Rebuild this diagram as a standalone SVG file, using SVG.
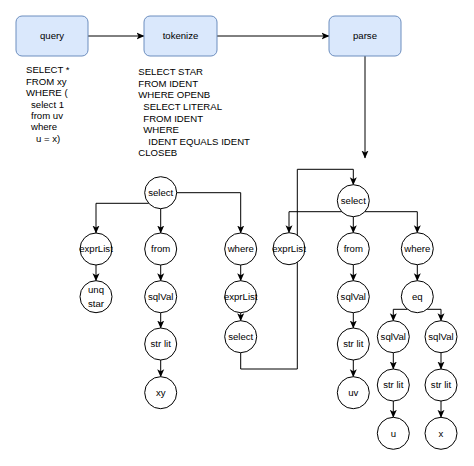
<svg xmlns="http://www.w3.org/2000/svg" width="474" height="466" viewBox="0 0 474 466">
<style>
text{font-family:"Liberation Sans",Arial,sans-serif;font-size:9.6px;fill:#000}
.c{text-anchor:middle}
.box{fill:#dae8fc;stroke:#6c8ebf;stroke-width:1}
.n{fill:#fff;stroke:#000;stroke-width:1}
.e{fill:none;stroke:#000;stroke-width:1;marker-end:url(#arr)}
.l{fill:none;stroke:#000;stroke-width:1}
</style>
<defs>
<marker id="arr" markerUnits="userSpaceOnUse" markerWidth="8" markerHeight="8" viewBox="0 0 8 8" refX="7.5" refY="4" orient="auto">
<path d="M0,0.5 L8,4 L0,7.5 L2,4 z" fill="#000"/>
</marker>
</defs>
<rect width="474" height="466" fill="#fff"/>
<g id="connectors">
<path class="e" d="M88,36 H144"/>
<path class="e" d="M217,36 H329"/>
<path class="e" d="M365,56 V158"/>
<path class="e" d="M148.7,203.3 H96 V233"/>
<path class="e" d="M160.7,208.7 V233"/>
<path class="e" d="M176.7,192.7 H240.7 V233"/>
<path class="e" d="M96,265 V280.7"/>
<path class="e" d="M160.7,265 V280.7"/>
<path class="e" d="M160.7,312.7 V328"/>
<path class="e" d="M160.7,360 V376.7"/>
<path class="e" d="M240.7,265 V280.7"/>
<path class="e" d="M240.7,312.7 V320.7"/>
<path class="e" d="M240.7,352.7 V369 H297.3 V169.3 H353.3 V184.7"/>
<path class="e" d="M341.7,211.7 H289 V232.7"/>
<path class="e" d="M353.3,216.7 V232.7"/>
<path class="e" d="M365,211.7 H417.3 V232.7"/>
<path class="e" d="M353.3,264.7 V280.7"/>
<path class="e" d="M353.3,312.7 V328"/>
<path class="e" d="M353.3,360 V376.7"/>
<path class="e" d="M417.3,264.7 V280.7"/>
<path class="e" d="M407.4,309.3 H393.3 V320.7"/>
<path class="e" d="M427.2,309.3 H441 V320.7"/>
<path class="e" d="M393.3,352.7 V369"/>
<path class="e" d="M441,352.7 V369"/>
<path class="e" d="M393.3,401 V417.3"/>
<path class="e" d="M441,401 V417.3"/>
</g>
<g id="query"><rect class="box" x="16" y="16" width="72" height="40" rx="6"/><text class="c" x="52" y="39.3">query</text></g>
<g id="tokenize"><rect class="box" x="144" y="16" width="73" height="40" rx="6"/><text class="c" x="180.5" y="39.3">tokenize</text></g>
<g id="parse"><rect class="box" x="329" y="16" width="72" height="40" rx="6"/><text class="c" x="365" y="39.3">parse</text></g>
<g id="query-text"><text><tspan x="26" y="73.3">SELECT *</tspan><tspan x="26" y="84.7">FROM xy</tspan><tspan x="26" y="96.1">WHERE (</tspan><tspan x="31" y="107.5">select 1</tspan><tspan x="31" y="118.9">from uv</tspan><tspan x="31" y="130.3">where</tspan><tspan x="36" y="141.7">u = x)</tspan></text></g>
<g id="tokens-text"><text><tspan x="138.3" y="75.2">SELECT STAR</tspan><tspan x="138.3" y="86.8">FROM IDENT</tspan><tspan x="138.3" y="98.4">WHERE OPENB</tspan><tspan x="143.3" y="110">SELECT LITERAL</tspan><tspan x="143.3" y="121.6">FROM IDENT</tspan><tspan x="143.3" y="133.2">WHERE</tspan><tspan x="148.3" y="144.8">IDENT EQUALS IDENT</tspan><tspan x="138.3" y="156.4">CLOSEB</tspan></text></g>
<g id="t1-select"><circle class="n" cx="160.7" cy="192.7" r="16"/><text class="c" x="160.7" y="196">select</text></g>
<g id="t1-exprList"><circle class="n" cx="96" cy="249" r="16"/><text class="c" x="96" y="252.3">exprList</text></g>
<g id="t1-from"><circle class="n" cx="160.7" cy="249" r="16"/><text class="c" x="160.7" y="252.3">from</text></g>
<g id="t1-where"><circle class="n" cx="240.7" cy="249" r="16"/><text class="c" x="240.7" y="252.3">where</text></g>
<g id="t1-unqstar"><circle class="n" cx="96" cy="296.7" r="16"/><text class="c"><tspan x="96" y="293">unq</tspan><tspan x="96" y="306.5">star</tspan></text></g>
<g id="t1-sqlVal"><circle class="n" cx="160.7" cy="296.7" r="16"/><text class="c" x="160.7" y="300">sqlVal</text></g>
<g id="t1-strlit"><circle class="n" cx="160.7" cy="344" r="16"/><text class="c" x="160.7" y="347.3">str lit</text></g>
<g id="t1-xy"><circle class="n" cx="160.7" cy="392.7" r="16"/><text class="c" x="160.7" y="396">xy</text></g>
<g id="t1-exprList2"><circle class="n" cx="240.7" cy="296.7" r="16"/><text class="c" x="240.7" y="300">exprList</text></g>
<g id="t1-select2"><circle class="n" cx="240.7" cy="336.7" r="16"/><text class="c" x="240.7" y="340">select</text></g>
<g id="t2-select"><circle class="n" cx="353.3" cy="200.7" r="16"/><text class="c" x="353.3" y="204">select</text></g>
<g id="t2-exprList"><circle class="n" cx="289" cy="248.7" r="16"/><text class="c" x="289" y="252">exprList</text></g>
<g id="t2-from"><circle class="n" cx="353.3" cy="248.7" r="16"/><text class="c" x="353.3" y="252">from</text></g>
<g id="t2-where"><circle class="n" cx="417.3" cy="248.7" r="16"/><text class="c" x="417.3" y="252">where</text></g>
<g id="t2-sqlVal"><circle class="n" cx="353.3" cy="296.7" r="16"/><text class="c" x="353.3" y="300">sqlVal</text></g>
<g id="t2-eq"><circle class="n" cx="417.3" cy="296.7" r="16"/><text class="c" x="417.3" y="300">eq</text></g>
<g id="t2-strlit"><circle class="n" cx="353.3" cy="344" r="16"/><text class="c" x="353.3" y="347.3">str lit</text></g>
<g id="t2-uv"><circle class="n" cx="353.3" cy="392.7" r="16"/><text class="c" x="353.3" y="396">uv</text></g>
<g id="t2-sqlVal-u"><circle class="n" cx="393.3" cy="336.7" r="16"/><text class="c" x="393.3" y="340">sqlVal</text></g>
<g id="t2-sqlVal-x"><circle class="n" cx="441" cy="336.7" r="16"/><text class="c" x="441" y="340">sqlVal</text></g>
<g id="t2-strlit-u"><circle class="n" cx="393.3" cy="385" r="16"/><text class="c" x="393.3" y="388.3">str lit</text></g>
<g id="t2-strlit-x"><circle class="n" cx="441" cy="385" r="16"/><text class="c" x="441" y="388.3">str lit</text></g>
<g id="t2-u"><circle class="n" cx="393.3" cy="433.3" r="16"/><text class="c" x="393.3" y="436.6">u</text></g>
<g id="t2-x"><circle class="n" cx="441" cy="433.3" r="16"/><text class="c" x="441" y="436.6">x</text></g>
</svg>
